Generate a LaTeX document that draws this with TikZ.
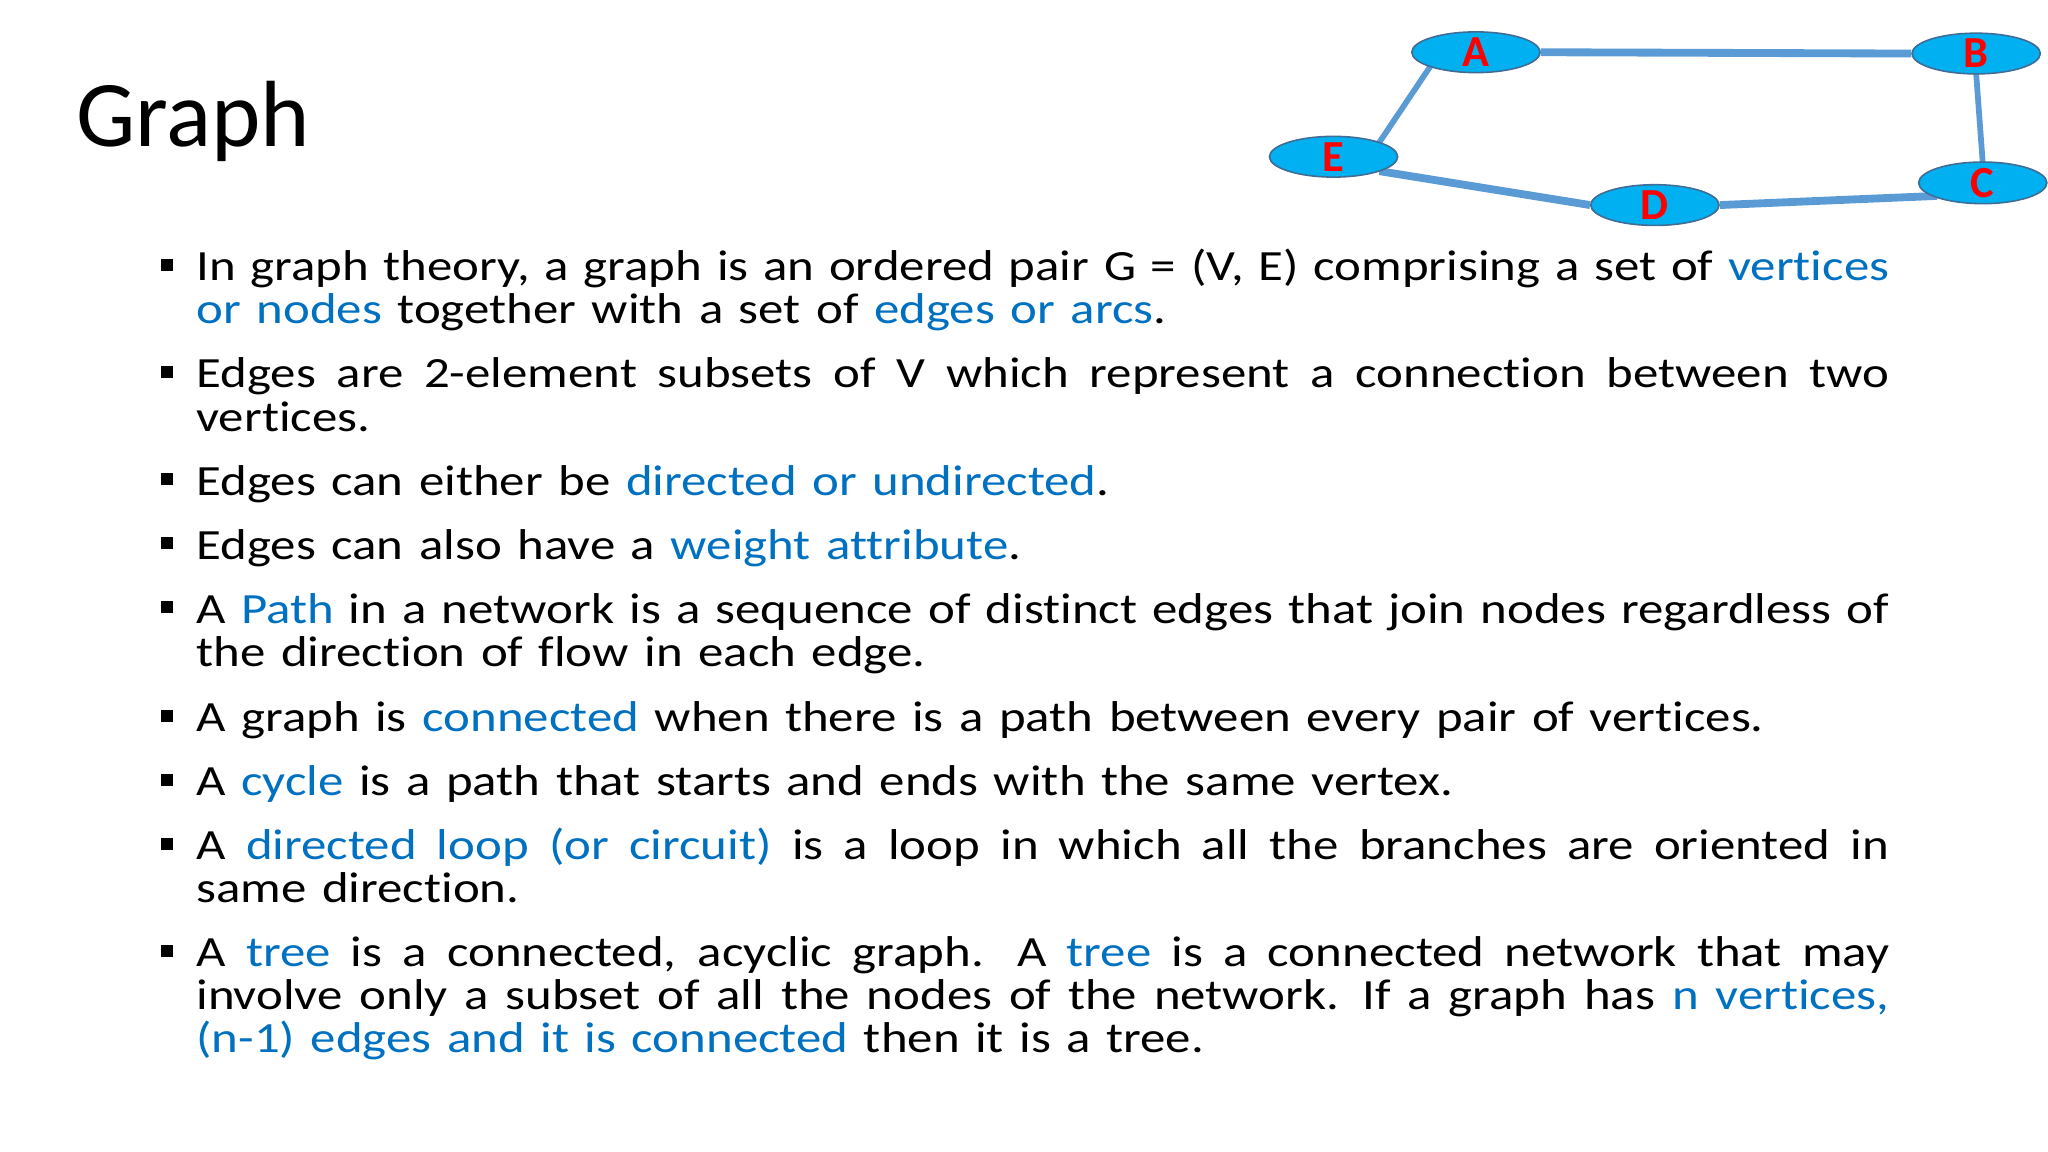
\documentclass[tikz,border=0pt]{standalone}
\usepackage{fontspec}
\setmainfont{Carlito}
\newfontfamily\bodyfont[FakeStretch=1.18,WordSpace=1.35,HyphenChar=None,Ligatures={NoCommon}]{Carlito}
\usetikzlibrary{shapes.geometric}
\definecolor{hl}{HTML}{0070C0}
\definecolor{edgec}{HTML}{5B9BD5}
\definecolor{vfill}{HTML}{00B0F0}
\newcommand{\hb}[1]{\textcolor{hl}{#1}}
\begin{document}
\begin{tikzpicture}[x=0.5pt,y=-0.5pt,
  vert/.style={ellipse,fill=vfill,draw=edgec!70!black,line width=0.6pt,minimum width=49pt,minimum height=15pt,inner sep=0pt,
    text=red,font=\bfseries\fontsize{17}{17}\selectfont},
  edg/.style={draw=edgec,line width=3pt},
  item/.style={anchor=base west,inner sep=0pt,text width=648pt,align=justify,font=\bodyfont\fontsize{16.5}{16.5}\selectfont},
  bul/.style={fill=black,minimum size=4.5pt,inner sep=0pt}]
\useasboundingbox (0,0) rectangle (1568,882);
\node[anchor=base west,inner sep=0pt,font=\fontsize{36}{36}\selectfont] (title) at (58,112) {Graph};
% graph
\node[vert] (A) at (1130,40) {};
\node[vert] (B) at (1513,41) {};
\node[vert] (C) at (1518,140) {};
\node[vert] (D) at (1267,157) {};
\node[vert] (E) at (1021,120) {};
\coordinate (cw) at (1483,150);
\draw[edg] (A.east) -- (B.west);
\draw[edg,line width=2.2pt] (B.south) -- (C.north);
\draw[edg] (cw) -- (D.east);
\draw[edg] (D.west) -- (E.south east);
\draw[edg,line width=2.2pt] (E.north east) -- (A.south west);
\node[vert] at (1130,40) {A};
\node[vert] at (1513,41) {B};
\node[vert] at (1518,140) {C};
\node[vert] at (1267,157) {D};
\node[vert] at (1021,120) {E};
% bullets
\foreach \y [count=\i] in {215,297,379,428,477,560,609,658,740}{
  \node[bul] (b\i) at (128,\y-12) {};
}
\node[item] (t1) at (150,215) {In graph theory, a graph is an ordered pair G = (V, E) comprising a set of \hb{vertices or nodes} together with a set of \hb{edges or arcs}.};
\node[item] (t2) at (150,297) {Edges are 2-element subsets of V which represent a connection between two vertices.};
\node[item] (t3) at (150,379) {Edges can either be \hb{directed or undirected}.};
\node[item] (t4) at (150,428) {Edges can also have a \hb{weight attribute}.};
\node[item] (t5) at (150,477) {A \hb{Path} in a network is a sequence of distinct edges that join nodes regardless of the direction of flow in each edge.};
\node[item] (t6) at (150,560) {A graph is \hb{connected} when there is a path between every pair of vertices.};
\node[item] (t7) at (150,609) {A \hb{cycle} is a path that starts and ends with the same vertex.};
\node[item] (t8) at (150,658) {A \hb{directed loop (or circuit)} is a loop in which all the branches are oriented in same direction.};
\node[item] (t9) at (150,740) {A \hb{tree} is a connected, acyclic graph. A \hb{tree} is a connected network that may involve only a subset of all the nodes of the network. If a graph has \hb{n vertices, (n-1) edges and it is connected} then it is a tree.};
\end{tikzpicture}
\end{document}
